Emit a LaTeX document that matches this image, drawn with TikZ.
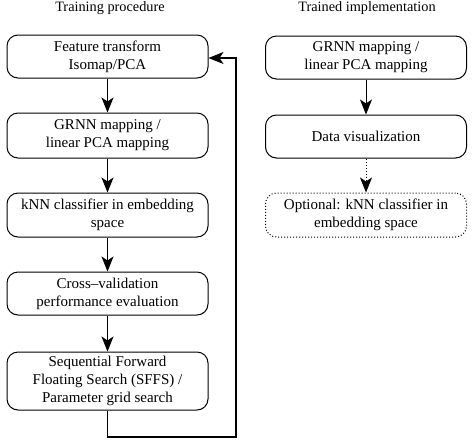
\documentclass[tikz,border=0pt]{standalone}
\usepackage{fontspec}
\setmainfont{Liberation Serif}
\usetikzlibrary{arrows.meta}
\begin{document}
\begin{tikzpicture}[x=1pt,y=-1pt,
  box/.style={draw,line width=1pt,rounded corners=11pt,minimum width=201pt,align=center,font=\fontsize{15}{18}\selectfont,inner sep=0pt},
  arr/.style={line width=1pt,-{Stealth[length=15pt,width=12pt,inset=4pt]}},
  ttl/.style={font=\fontsize{14.3}{16}\selectfont}]
\useasboundingbox (0,0) rectangle (474,440);
\node[ttl] (t1) at (110,8) {Training procedure};
\node[ttl] (t2) at (367,8) {Trained implementation};
\node[box,minimum height=43pt] (l1) at (107.5,56.5) {Feature transform\\Isomap/PCA};
\node[box,minimum height=45pt] (l2) at (107.5,135.5) {GRNN mapping /\\linear PCA mapping};
\node[box,minimum height=44pt] (l3) at (107.5,215) {kNN classifier in embedding\\space};
\node[box,minimum height=43pt] (l4) at (107.5,293.5) {Cross{\textendash}validation\\performance evaluation};
\node[box,minimum height=58pt] (l5) at (107.5,381) {Sequential Forward\\Floating Search (SFFS) /\\Parameter grid search};
\node[box,minimum height=43pt] (r1) at (366,57.5) {GRNN mapping /\\linear PCA mapping};
\node[box,minimum height=43pt] (r2) at (366,136.5) {Data visualization};
\node[box,minimum height=44pt,dotted] (r3) at (366,215) {Optional: kNN classifier in\\embedding space};
\draw[arr] (l1) -- (l2);
\draw[arr] (l2) -- (l3);
\draw[arr] (l3) -- (l4);
\draw[arr] (l4) -- (l5);
\draw[arr] (r1) -- (r2);
\draw[arr,dotted] (r2) -- (r3);
\coordinate (c1) at (107.5,437);
\coordinate (c2) at (236,437);
\coordinate (c3) at (236,58);
\draw[arr,line width=1.3pt] (l5.south) -- (c1) -- (c2) -- (c3) -- (l1.east |- c3);
\end{tikzpicture}
\end{document}
